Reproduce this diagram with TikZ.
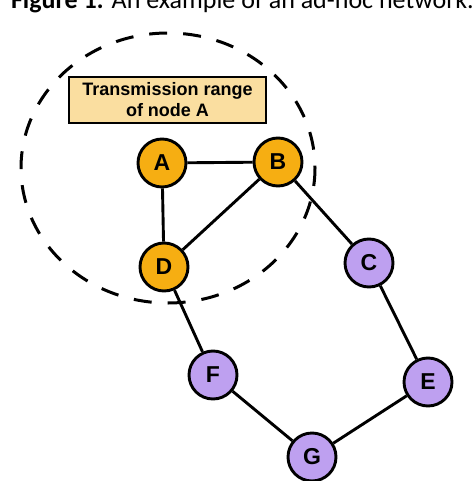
\documentclass[tikz,border=0pt]{standalone}
\usepackage{fontspec}
\setmainfont{Liberation Sans}
\newfontfamily\capfont{Carlito}
\definecolor{nodeorange}{RGB}{246,174,18}
\definecolor{nodepurple}{RGB}{190,160,240}
\definecolor{boxfill}{RGB}{250,222,160}
\tikzset{
  net/.style={circle, draw=black, line width=2.9pt, minimum size=48pt, inner sep=0pt,
    font=\fontsize{23}{23}\selectfont\bfseries},
  inrange/.style={net, fill=nodeorange},
  outrange/.style={net, fill=nodepurple},
  link/.style={line width=2.9pt},
  rangecircle/.style={line width=3pt, dash pattern=on 18pt off 16pt},
  labelbox/.style={draw=black, line width=1.8pt, fill=boxfill, minimum width=197pt, minimum height=46pt,
    align=center, font=\fontsize{18}{21}\selectfont\bfseries, inner sep=0pt}
}
\begin{document}
\begin{tikzpicture}[x=1pt,y=-1pt]
\useasboundingbox (0,0) rectangle (474,481);
\node[anchor=base east, inner sep=0pt, font=\capfont\fontsize{26}{26}\selectfont] (cap) at (474,8.5) {\textbf{Figure 1:} An example of an ad-hoc network.};
\draw[rangecircle] (168,168) ellipse [x radius=147, y radius=135];
\node[labelbox] (box) at (167.5,100) {Transmission range\\of node A};
\node[inrange] (A) at (162,163) {A};
\node[inrange] (B) at (278,162) {B};
\node[inrange] (D) at (164,267) {D};
\node[outrange] (C) at (369,263) {C};
\node[outrange] (F) at (213,375) {F};
\node[outrange] (E) at (428,382) {E};
\node[outrange] (G) at (312,457) {G};
\draw[link] (A) -- (B);
\draw[link] (A) -- (D);
\draw[link] (B) -- (D);
\draw[link] (B) -- (C);
\draw[link] (C) -- (E);
\draw[link] (D) -- (F);
\draw[link] (F) -- (G);
\draw[link] (G) -- (E);
\end{tikzpicture}
\end{document}
